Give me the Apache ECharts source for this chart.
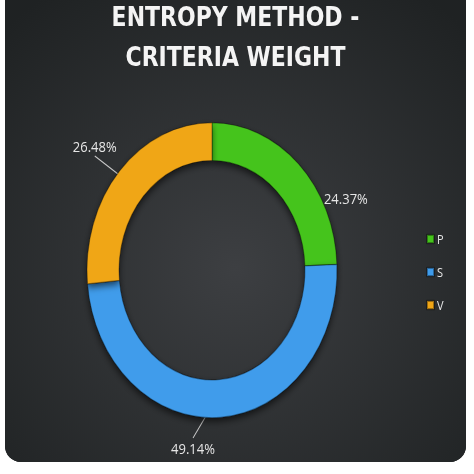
<!DOCTYPE html>
<html>
<head>
<meta charset="utf-8">
<script src="https://cdn.jsdelivr.net/npm/echarts@6/dist/echarts.min.js"></script>
<style>
  html, body { margin: 0; padding: 0; background: #ffffff; }
  #panel {
    position: absolute; left: 5px; top: 0; width: 461px; height: 462px;
    border-radius: 0 0 16px 16px; overflow: hidden; background: #202324;
  }
  #chart {
    width: 461px; height: 392px;
    transform: scaleY(1.18); transform-origin: 0 0;
  }
</style>
</head>
<body>
<div id="panel"><div id="chart"></div></div>
<script>
// criteria weights (entropy method), percent
const categories = ['P', 'S', 'V'];
const weights = [24.37, 49.14, 26.48];
const colors = ['#45c41c', '#3f9ceb', '#f0a617'];
const titleLines = ['ENTROPY METHOD -', 'CRITERIA WEIGHT'];

// nudge the percent labels to where the original has them
const labelShift = [[4, 38], [-63, 14], [19, -13]];
const pieCenter = [207, 229];

const chart = echarts.init(document.getElementById('chart'), null, { renderer: 'svg' });

chart.setOption({
  backgroundColor: {
    type: 'radial', x: 0.5, y: 0.58, r: 0.72,
    colorStops: [
      { offset: 0, color: '#3d3f42' },
      { offset: 1, color: '#1f2223' }
    ]
  },
  title: {
    text: titleLines.join('\n'),
    left: 'center',
    top: -2,
    padding: 0,
    textStyle: {
      color: '#f4f4f4',
      fontFamily: 'DejaVu Sans',
      fontWeight: 'bold',
      fontSize: 22,
      lineHeight: 34
    }
  },
  legend: {
    orient: 'vertical',
    left: 416,
    top: 192,
    itemWidth: 7,
    itemHeight: 7,
    itemGap: 17,
    icon: 'rect',
    data: categories,
    textStyle: { color: '#e8e8e8', fontFamily: 'Open Sans', fontSize: 11, padding: [0, 0, 0, -2] }
  },
  series: [{
    type: 'pie',
    center: pieCenter,
    radius: [93, 125],
    startAngle: 90,
    clockwise: true,
    avoidLabelOverlap: false,
    itemStyle: {
      borderColor: 'rgba(0,0,0,0.35)',
      borderWidth: 1,
      shadowBlur: 6,
      shadowOffsetY: 3,
      shadowColor: 'rgba(0,0,0,0.6)'
    },
    label: {
      formatter: '{c}%',
      color: '#e6e6e6',
      fontFamily: 'Open Sans',
      fontSize: 13
    },
    labelLine: {
      length: 12,
      length2: 8,
      lineStyle: { color: '#c8c8c8', width: 1 }
    },
    labelLayout: function (params) {
      const s = labelShift[params.dataIndex];
      const out = { dx: s[0], dy: s[1] };
      const pts = params.labelLinePoints;
      if (pts && params.dataIndex !== 0) {
        // start inside the ring band, end at the moved label
        const p0 = pts[0];
        const start = [
          pieCenter[0] + (p0[0] - pieCenter[0]) * 0.84,
          pieCenter[1] + (p0[1] - pieCenter[1]) * 0.84
        ];
        const r = params.labelRect;
        const cx = r.x + s[0] + r.width / 2;
        const end = p0[1] > pieCenter[1]
          ? [cx, r.y + s[1] - 2]
          : [cx, r.y + s[1] + r.height + 2];
        out.labelLinePoints = [start, end];
      }
      return out;
    },
    data: categories.map((name, i) => ({
      name: name,
      value: weights[i],
      itemStyle: { color: colors[i] },
      labelLine: { show: i !== 0 }
    }))
  }]
});
</script>
</body>
</html>
